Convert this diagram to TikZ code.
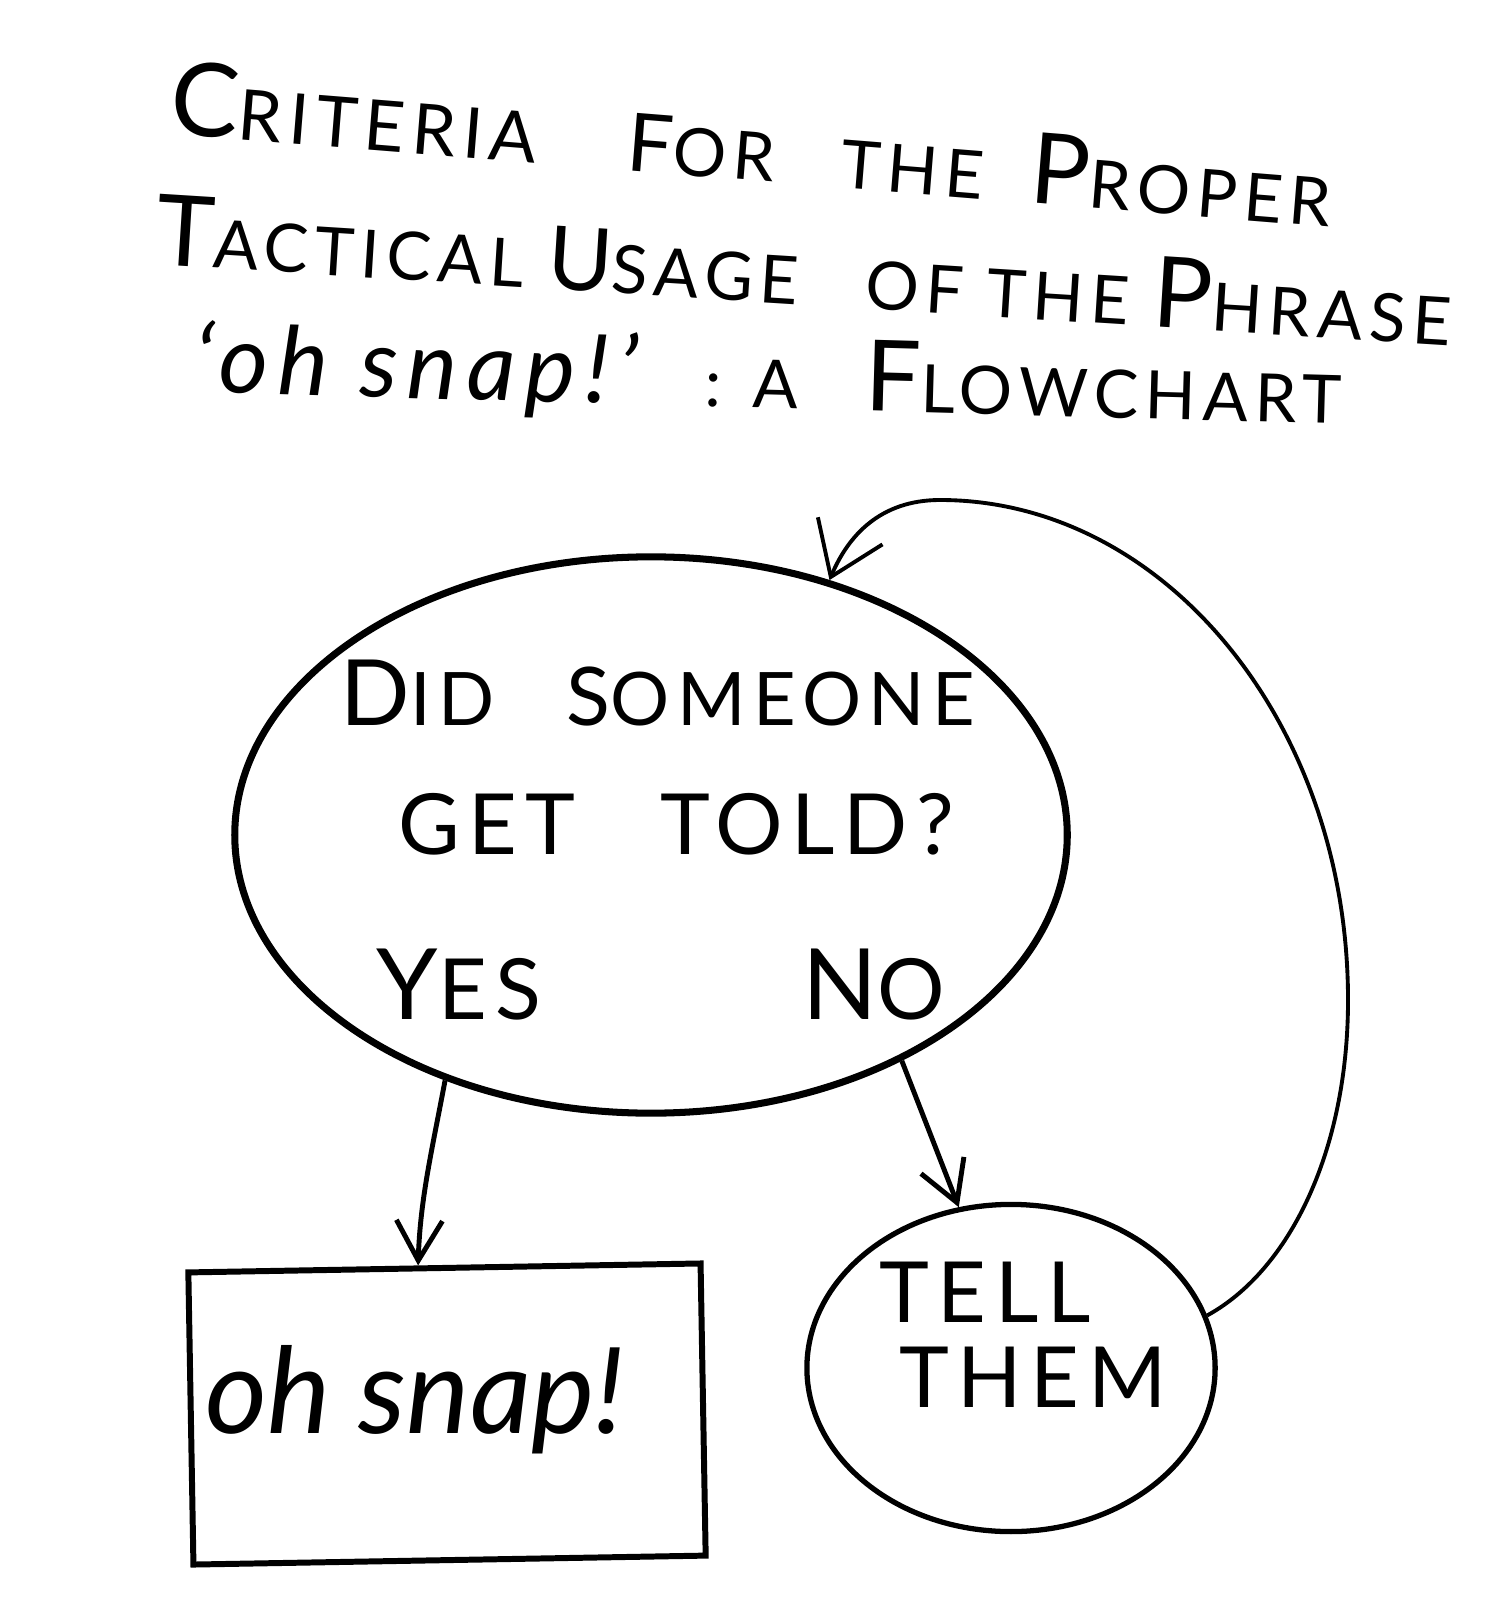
\documentclass[tikz,border=0pt]{standalone}
\usepackage{fontspec}
\setmainfont{Lato}
\newfontfamily\hand[LetterSpace=10]{Lato}
\usetikzlibrary{arrows.meta,shapes.geometric,calc}
\newcommand{\up}[2]{{\fontsize{#1}{#1}\selectfont #2}}
\tikzset{
  ttl/.style={font=\hand\fontsize{19}{21}\selectfont, inner sep=0pt},
  lbl/.style={font=\hand\fontsize{24}{26}\selectfont, inner sep=0pt},
  qbox/.style={draw, ellipse, line width=2pt, inner sep=0pt},
  endbox/.style={draw, rectangle, line width=1.7pt, inner sep=0pt},
  arr/.style={-{Straight Barb[length=4mm,width=4.6mm]}, line width=1.4pt},
  back/.style={-{Straight Barb[length=5mm,width=7mm]}, line width=1.1pt}
}
\begin{document}
\begin{tikzpicture}[x=0.01cm,y=-0.01cm]
\useasboundingbox (0,0) rectangle (1500,1601);
% title
\node[ttl, rotate=-4.6] (t1) at (752,144) {\up{29}{C}\up{20}{RITERIA}\quad\ \up{23}{F}OR\quad THE\ \ \up{28}{P}ROPER};
\node[ttl, rotate=-3.6] (t2) at (804,270) {\up{28}{T}ACTICAL \up{25}{U}SAGE\quad OF THE \up{28}{P}HRASE};
\node[ttl, rotate=-1.6] (t3) at (768,380) {{\itshape\up{27}{‘oh snap!’}}\quad: A\quad \up{28}{F}LOWCHART};
% question
\node[qbox, minimum width=8.32cm, minimum height=5.56cm] (told) at (651,835) {};
\node[lbl] (q1) at (658,693) {\up{26}{D}\up{21}{ID}\enspace\ \up{23}{S}\up{21}{OMEONE}};
\node[lbl] (q2) at (676,824) {GET\quad TOLD?};
\node[lbl] (yes) at (459,985) {\up{28}{Y}ES};
\node[lbl] (no) at (874,985) {\up{28}{N}O};
% answers
\node[endbox, minimum width=5.12cm, minimum height=2.92cm, rotate=1] (snap) at (447,1414) {};
\node[font=\itshape\fontsize{34}{36}\selectfont, inner sep=0pt] (oh) at (415,1400) {oh snap!};
\node[draw, ellipse, line width=1.5pt, minimum width=4.08cm, minimum height=3.27cm] (tell) at (1011,1368) {};
\node[lbl] (tl1) at (985,1292) {TELL};
\node[lbl] (tl2) at (1033,1377) {THEM};
% arrows
\draw[arr] (told.230) .. controls (432,1150) and (420,1200) .. (snap.100);
\draw[arr] (told.318) -- (tell.108);
\draw[back] (tell.15) .. controls (1290,1270) and (1348,1150) .. (1348,1000)
  .. controls (1348,724) and (1165,500) .. (940,500)
  .. controls (880,500) and (848,536) .. (told.55);
\end{tikzpicture}
\end{document}
